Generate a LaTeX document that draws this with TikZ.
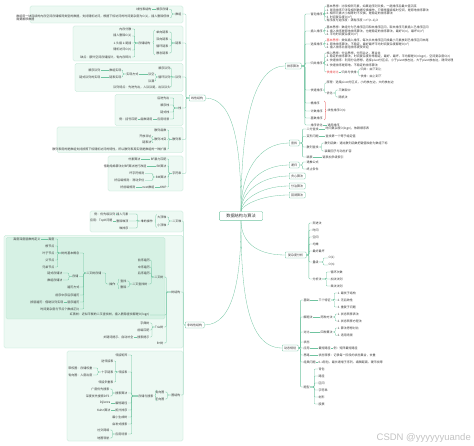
\documentclass[tikz,border=0pt]{standalone}
\usepackage{fontspec}
\newfontfamily\cjk{Noto Sans CJK SC}
\newfontfamily\wmfont{Liberation Sans}
\usetikzlibrary{decorations.pathreplacing}
\definecolor{edgec}{RGB}{112,196,160}
\definecolor{nodeb}{RGB}{112,196,160}
\definecolor{grpfill}{RGB}{237,249,243}
\definecolor{grpline}{RGB}{178,226,204}
\definecolor{grpinner}{RGB}{214,241,228}
\definecolor{txt}{RGB}{55,55,55}
\definecolor{redc}{RGB}{228,60,60}
\definecolor{wmc}{RGB}{196,196,196}
\newcommand\Lk[3][2.5]{\draw[ed] (#2.west) -- ++(-#1,0) |- (#3.east);}
\newcommand\Rk[3][2.5]{\draw[ed] (#2.east) -- ++(#1,0) |- (#3.west);}
\newcommand\ChL[2]{\draw[ed] (#1.west) -- (#2.east);}
\newcommand\ChR[2]{\draw[ed] (#1.east) -- (#2.west);}
\begin{document}
\begin{tikzpicture}[x=1pt,y=-1pt,
 every node/.style={font=\cjk\fontsize{3}{3.6}\selectfont, text=txt},
 lf/.style={inner sep=0.4pt},
 le/.style={lf, anchor=east},
 lw/.style={lf, anchor=west},
 mn/.style={draw=nodeb, fill=white, rounded corners=0.8pt, inner xsep=2pt, inner ysep=1.6pt, line width=0.35pt, anchor=west},
 ctrn/.style={draw=nodeb, fill=white, rounded corners=1pt, inner xsep=7pt, inner ysep=2.5pt, line width=0.4pt, font=\cjk\fontsize{4.2}{5}\selectfont},
 ed/.style={draw=edgec, line width=0.3pt, rounded corners=1pt},
 br/.style={draw=edgec, line width=0.3pt, decorate, decoration={brace, amplitude=1.5pt}},
 grp/.style={fill=grpfill, draw=grpline, line width=0.3pt, rounded corners=1.5pt},
 grpi/.style={fill=grpinner, draw=grpline, line width=0.3pt, rounded corners=1.5pt},
]
\fill[white] (0,0) rectangle (474,446);
\useasboundingbox (0,0) rectangle (474,446);

% ---------- group backgrounds ----------
\path[grp] (30,6) rectangle (183,23);
\path[grp] (73,26) rectangle (183,61);
\path[grp] (75,63.5) rectangle (183,91.5);
\path[grp] (115,94.5) rectangle (183,125.5);
\path[grp] (57,127) rectangle (183,152.5);
\path[grp] (108,156) rectangle (183,191);
\path[grp] (90,211) rectangle (183,232);
\path[grp] (4,235.5) rectangle (183,348);
\path[grpi] (6,237.5) rectangle (165,319);
\path[grp] (67,351) rectangle (183,441);

% ---------- center and main nodes ----------
\node[ctrn] (ctr) at (241,216) {数据结构与算法};
\node[mn] (ML1) at (189,98) {线性结构};
\node[mn] (ML2) at (185,325) {非线性结构};
\node[mn] (RM1) at (285,66) {排序算法};
\node[mn] (RM2) at (289,143) {查找};
\node[mn] (RM3) at (289,165) {递归};
\node[mn] (RM4) at (289,176) {贪心算法};
\node[mn] (RM5) at (289,186) {分治算法};
\node[mn] (RM6) at (289,195) {回溯算法};
\node[mn, inner xsep=3pt] (RM7) at (285,255) {复杂度分析};
\node[mn] (RM8) at (282,348) {动态规划};

\draw[ed] (ctr.north) .. controls +(0,-75) and +(-35,0) .. (RM1.west);
\draw[ed] (ctr.north) .. controls +(0,-40) and +(-30,0) .. (RM2.west);
\draw[ed] (ctr.north) .. controls +(0,-25) and +(-30,0) .. (RM3.west);
\draw[ed] (ctr.north) .. controls +(0,-18) and +(-30,0) .. (RM4.west);
\draw[ed] (ctr.north) .. controls +(0,-10) and +(-30,0) .. (RM5.west);
\draw[ed] (ctr.north) .. controls +(0,-5) and +(-30,0) .. (RM6.west);
\draw[ed] (ctr.north) .. controls +(0,-60) and +(30,0) .. (ML1.east);
\draw[ed] (ctr.south) .. controls +(0,55) and +(30,0) .. (ML2.east);
\draw[ed] (ctr.south) .. controls +(0,20) and +(-30,0) .. (RM7.west);
\draw[ed] (ctr.south) .. controls +(0,70) and +(-35,0) .. (RM8.west);

% ---------- group A ----------
\node[le] (A) at (182,14) {数组};
\node[le] (A1) at (169,9.5) {顺序存储};
\node[le] (A11) at (152,9.5) {线性表结构};
\node[le, align=left] (A2) at (170,17.7) {数组用一块连续的内存空间存储相同类型的数据，支持随机访问，根据下标访问的时间复杂度为O(1)，插入删除低效\\需要搬移数据};
\Lk[3]{A}{A1} \Lk[3]{A}{A2} \ChL{A1}{A11}

% ---------- group B ----------
\node[le] (B) at (182,43) {链表};
\node[le] (B1) at (169,32) {单向链表};
\node[le] (B2) at (169,39) {双向链表};
\node[le] (B3) at (169,46) {循环链表};
\node[le] (B4) at (169,53) {静态链表};
\draw[br] (154.5,55) -- (154.5,30);
\node[le] (BS) at (151,43) {存储结构};
\node[le] (B5) at (132,29) {内存分散};
\node[le] (B6) at (132,36) {插入删除O(1)};
\node[le] (B7) at (132,43) {1.头插 2.尾插};
\node[le] (B8) at (132,50) {随机访问O(n)};
\node[le] (B9) at (132,57) {缺点：额外空间存储指针，有内存碎片};
\Lk[3.5]{B}{B1} \Lk[3.5]{B}{B2} \Lk[3.5]{B}{B3} \Lk[3.5]{B}{B4}
\Lk[3]{BS}{B5} \Lk[3]{BS}{B6} \Lk[3]{BS}{B7} \Lk[3]{BS}{B8} \Lk[3]{BS}{B9}

% ---------- group C ----------
\node[le] (C) at (182,77) {队列};
\node[le] (C1) at (171,68) {顺序队列};
\node[le] (C2) at (171,77) {循环队列};
\node[le] (C3) at (171,87) {队列特点：先进先出，入队队尾，出队队头};
\node[le] (C21) at (155,74) {队空};
\node[le] (C22) at (155,81) {队满};
\node[le] (CS) at (139,74) {实现方式};
\node[le] (C5) at (122,70) {数组实现};
\node[le] (C6) at (122,77) {链表实现};
\node[le] (C7) at (101,70) {顺序队列};
\node[le] (C8) at (101,77) {链式队列的实现};
\Lk[3.5]{C}{C1} \Lk[3.5]{C}{C2} \Lk[3.5]{C}{C3}
\Lk[2]{C2}{C21} \Lk[2]{C2}{C22} \ChL{C21}{CS}
\Lk[3]{CS}{C5} \Lk[3]{CS}{C6} \ChL{C5}{C7} \ChL{C6}{C8}

% ---------- group D ----------
\node[le] (D) at (182,108) {栈};
\node[le] (D1) at (170,98) {后进先出};
\node[le] (D2) at (170,105) {顺序栈};
\node[le] (D3) at (170,112) {链式栈};
\node[le] (D4) at (170,119) {应用场景};
\node[le] (D41) at (153,119) {函数调用};
\node[le] (D42) at (138,119) {例：括号匹配};
\Lk[4]{D}{D1} \Lk[4]{D}{D2} \Lk[4]{D}{D3} \Lk[4]{D}{D4}
\ChL{D4}{D41} \ChL{D41}{D42}

% ---------- group E ----------
\node[le] (E) at (182,139.5) {散列表};
\node[le] (E1) at (167,130) {散列函数};
\node[le] (E2) at (167,139.5) {散列冲突};
\node[le] (E21) at (152,136.5) {开放寻址};
\node[le] (E22) at (152,142.5) {链表法};
\node[le] (E3) at (167,149) {散列表用的是数组支持按照下标随机访问的特性，所以散列表其实就是数组的一种扩展};
\Lk[3]{E}{E1} \Lk[3]{E}{E2} \Lk[3]{E}{E3}
\Lk[2]{E2}{E21} \Lk[2]{E2}{E22}

% ---------- group F ----------
\node[le] (F) at (182,173.5) {字符串};
\node[le] (F1) at (167,159) {BF暴力匹配};
\node[le] (F11) at (141,159) {朴素算法};
\node[le] (F2) at (167,166) {RK算法};
\node[le] (F21) at (147,166) {借助哈希算法对BF算法进行改造};
\node[le] (F3) at (167,177) {BM算法};
\node[le] (F31) at (145,173.5) {坏字符规则};
\node[le] (F32) at (145,180.5) {好后缀规则：滑动多位};
\node[le] (F4) at (167,187) {KMP};
\node[le] (F41) at (155,187) {next数组};
\node[le] (F42) at (136,187) {好前缀规则};
\Lk[3]{F}{F1} \Lk[3]{F}{F2} \Lk[3]{F}{F3} \Lk[3]{F}{F4}
\ChL{F1}{F11} \ChL{F2}{F21} \Lk[2.5]{F3}{F31} \Lk[2.5]{F3}{F32}
\ChL{F4}{F41} \ChL{F41}{F42}

\Lk[3]{ML1}{A} \Lk[3]{ML1}{B} \Lk[3]{ML1}{C} \Lk[3]{ML1}{D} \Lk[3]{ML1}{E} \Lk[3]{ML1}{F}

% ---------- group G ----------
\node[le] (G) at (182,221) {二叉堆};
\node[le] (G1) at (167,217) {大顶堆};
\node[le] (G2) at (167,225) {小顶堆};
\draw[br] (156.5,227.5) -- (156.5,214.5);
\node[le] (GS) at (153.5,221) {堆的操作};
\node[le] (G3) at (129,214) {插入元素};
\node[le] (G4) at (129,221) {删除堆顶};
\node[le] (G5) at (129,228) {堆排序};
\node[le] (G31) at (116,214) {例：优先级队列};
\node[le] (G41) at (113,221) {应用：TopK问题};
\Lk[3]{G}{G1} \Lk[3]{G}{G2}
\Lk[3]{GS}{G3} \Lk[3]{GS}{G4} \Lk[3]{GS}{G5}
\ChL{G3}{G31} \ChL{G4}{G41}

% ---------- group H ----------
\node[le] (T) at (181,292) {树结构};
\node[le] (M1) at (164,277) {二叉树};
\node[le] (m1) at (150.5,260) {前序遍历};
\node[le] (m2) at (150.5,267) {中序遍历};
\node[le] (m3) at (150.5,273) {后序遍历};
\node[le] (MQ) at (148,284) {二叉查找树};
\node[le] (MQ1) at (127,281) {查找};
\node[le] (MQ2) at (127,287) {删除};
\draw[br] (119,289) -- (119,279);
\node[le] (K) at (116,284) {操作};
\node[le] (N1) at (102,273) {二叉树存储};
\node[le] (X1) at (80,253) {树的基本概念};
\node[le] (x11) at (55,239) {高度};
\node[le] (x111) at (41,239) {高度深度层数的定义};
\node[le] (x12) at (55,246) {根节点};
\node[le] (x13) at (55,253) {叶子节点};
\node[le] (x14) at (55,260) {父节点};
\node[le] (x15) at (55,267) {兄弟节点};
\node[le] (X2) at (79,276.5) {存储};
\node[le] (x21) at (63,273) {链式存储法};
\node[le] (x22) at (63,280) {数组存储法};
\node[le] (X3) at (80,287) {遍历方式};
\node[le] (X4) at (80,295) {前序中序后序遍历};
\node[le] (X5) at (80,302) {层序遍历};
\node[le] (x51) at (64,302) {按层遍历：借助队列实现};
\node[le] (X6) at (80,309) {时间复杂度与节点个数成正比};
\node[le] (P) at (150,315) {红黑树：近似平衡的二叉查找树，插入删除查找都是O(logn)};
\node[le] (Q) at (164,327) {Trie树};
\node[le] (q1) at (150,323) {字典树};
\node[le] (q2) at (150,330) {前缀匹配};
\node[le] (q3) at (150,337) {搜索提示};
\node[le] (q31) at (134,337) {关键词提示、自动补全};
\node[le] (R) at (164,343) {B+树};
\Lk[4.5]{T}{M1} \Lk[4.5]{T}{P} \Lk[4.5]{T}{Q} \Lk[4.5]{T}{R}
\Lk{M1}{m1} \Lk{M1}{m2} \Lk{M1}{m3} \Lk{M1}{MQ}
\Lk{MQ}{MQ1} \Lk{MQ}{MQ2}
\Lk[3]{K}{N1}
\Lk[2]{N1}{X1} \Lk[2]{N1}{X2} \Lk[2]{N1}{X3} \Lk[2]{N1}{X4} \Lk[2]{N1}{X5} \Lk[2]{N1}{X6}
\Lk[3]{X1}{x11} \Lk[3]{X1}{x12} \Lk[3]{X1}{x13} \Lk[3]{X1}{x14} \Lk[3]{X1}{x15}
\ChL{x11}{x111}
\Lk[3]{X2}{x21} \Lk[3]{X2}{x22} \ChL{X5}{x51}
\Lk{Q}{q1} \Lk{Q}{q2} \Lk{Q}{q3} \ChL{q3}{q31}

% ---------- group I ----------
\node[le] (I) at (181,395) {图结构};
\node[le] (I1) at (165,392) {有向图};
\node[le] (I2) at (165,399) {无向图};
\draw[br] (156.5,401) -- (156.5,390);
\node[le] (IS) at (154,396) {存储与搜索};
\node[le] (i1) at (128,355) {邻接矩阵};
\node[le] (i2) at (128,372) {邻接表};
\node[le] (i21) at (114,361) {逆邻接表};
\node[le] (i22) at (114,372) {十字链表};
\node[le] (i221) at (93,368) {带权图：存储权重};
\node[le] (i222) at (93,375) {有向图：入度出度};
\node[le] (i23) at (114,382) {邻接多重表};
\node[le] (i3) at (128,393) {搜索算法};
\node[le] (i31) at (110,389) {广度优先搜索};
\node[le] (i32) at (110,396) {深度优先搜索DFS};
\node[le] (i4) at (128,403) {最短路径};
\node[le] (i41) at (111,403) {Dijkstra};
\node[le] (i5) at (128,410) {拓扑排序};
\node[le] (i51) at (111,410) {Kahn算法};
\node[le] (i6) at (128,417) {最小生成树};
\node[le] (i7) at (128,424) {启发式搜索};
\node[le] (i8) at (128,434) {应用场景};
\node[le] (i81) at (110,430) {社交网络};
\node[le] (i82) at (110,438) {地图导航};
\Lk[3.5]{I}{I1} \Lk[3.5]{I}{I2}
\Lk[6]{IS}{i1} \Lk[6]{IS}{i2} \Lk[6]{IS}{i3} \Lk[6]{IS}{i4} \Lk[6]{IS}{i5} \Lk[6]{IS}{i6} \Lk[6]{IS}{i7} \Lk[6]{IS}{i8}
\Lk[2]{i2}{i21} \Lk[2]{i2}{i22} \Lk[2]{i2}{i23}
\Lk[3]{i22}{i221} \Lk[3]{i22}{i222}
\Lk{i3}{i31} \Lk{i3}{i32} \ChL{i4}{i41} \ChL{i5}{i51}
\Lk{i8}{i81} \Lk{i8}{i82}

\Lk[1.5]{ML2}{G} \Lk[1.5]{ML2}{T} \Lk[1.5]{ML2}{I}

% ---------- right: sorting ----------
\node[lw] (r1) at (310,14) {冒泡排序};
\node[lw] (r11) at (326,6) {基本思想：比较相邻元素，如果逆序则交换，一趟排序后最大值沉底};
\node[lw] (r12) at (326,10) {1. 冒泡排序只涉及相邻数据交换操作，只需常量级临时空间，是原地排序算法};
\node[lw] (r13) at (326,13.5) {2. 相邻元素大小相等时不交换，是稳定的排序算法};
\node[lw] (r14) at (326,17) {3. 时间复杂度O(n²)};
\node[lw] (r15) at (326,21) {有序度与逆序度：满有序度 = n*(n-1)/2};
\node[lw] (r2) at (310,31) {插入排序};
\node[lw] (r21) at (326,27.5) {基本思想：数组分为已排序区间和未排序区间，取未排序元素插入已排序区间};
\node[lw] (r22) at (326,31) {1. 插入排序是原地排序算法，也是稳定的排序算法，最好O(n)，最坏O(n²)};
\node[lw] (r23) at (326,34.5) {2. 平均时间复杂度O(n²)};
\node[lw] (r3) at (310,44) {选择排序};
\node[lw] (r31) at (326,40.5) {\textcolor{redc}{基本思想}：类似插入排序，每次从未排序区间找最小元素放到已排序区间末尾};
\node[lw] (r32) at (326,44) {1. 原地排序算法，不稳定，最好最坏平均时间复杂度都是O(n²)};
\node[lw] (r33) at (326,47.5) {2. 插入排序比冒泡排序更受欢迎};
\node[lw] (r4) at (310,63) {归并排序};
\node[lw] (r41) at (326,53) {核心思想：分治思想，分而治之，再合并};
\node[lw] (r42) at (326,57) {1. 稳定的排序算法，时间复杂度非常稳定，最好、最坏、平均都是O(nlogn)，空间复杂度O(n)};
\node[lw] (r43) at (326,61) {2. 快速排序：利用分治思想，选择pivot分区点，小于pivot放左边，大于pivot放右边，递归处理};
\node[lw] (r44) at (326,65) {3. 快速排序是原地、不稳定的排序算法};
\node[lw, text=redc] (r45) at (326,72) {快排对比};
\node[lw] (r46) at (341,72) {归并与快排};
\node[lw] (r461) at (360,69) {归并：由下到上};
\node[lw] (r462) at (360,76) {快排：由上到下};
\node[lw] (r5) at (310,90) {快速排序};
\node[lw] (r51) at (326,83) {原理：选择pivot分区点，小的放左边，大的放右边};
\node[lw] (r52) at (326,93) {优化};
\node[lw] (r521) at (338,90) {三数取中};
\node[lw] (r522) at (338,97) {随机法};
\node[lw] (r6) at (310,103) {桶排序};
\node[lw] (r7) at (310,111) {计数排序};
\node[lw] (r8) at (310,118) {基数排序};
\draw[br, draw=redc] (324.5,101) -- (324.5,120);
\node[lw] (r78) at (327,110.5) {线性排序O(n)};
\node[lw] (r9) at (310,125) {排序优化};
\node[lw] (r91) at (327,125) {通用排序};
\Rk[3.5]{RM1}{r1} \Rk[3.5]{RM1}{r2} \Rk[3.5]{RM1}{r3} \Rk[3.5]{RM1}{r4} \Rk[3.5]{RM1}{r5}
\Rk[3.5]{RM1}{r6} \Rk[3.5]{RM1}{r7} \Rk[3.5]{RM1}{r8} \Rk[3.5]{RM1}{r9}
\Rk[1.5]{r1}{r11} \Rk[1.5]{r1}{r12} \Rk[1.5]{r1}{r13} \Rk[1.5]{r1}{r14} \Rk[1.5]{r1}{r15}
\Rk[1.5]{r2}{r21} \Rk[1.5]{r2}{r22} \Rk[1.5]{r2}{r23}
\Rk[1.5]{r3}{r31} \Rk[1.5]{r3}{r32} \Rk[1.5]{r3}{r33}
\Rk[1.5]{r4}{r41} \Rk[1.5]{r4}{r42} \Rk[1.5]{r4}{r43} \Rk[1.5]{r4}{r44} \Rk[1.5]{r4}{r45}
\ChR{r45}{r46} \Rk[1.5]{r46}{r461} \Rk[1.5]{r46}{r462}
\Rk[1.5]{r5}{r51} \Rk[1.5]{r5}{r52} \Rk[2.5]{r52}{r521} \Rk[2.5]{r52}{r522}
\ChR{r9}{r91}

% ---------- right: search ----------
\node[lw] (s1) at (306,129) {二分查找};
\node[lw] (s11) at (325,129) {时间复杂度O(logn)，依赖顺序表};
\node[lw] (s2) at (306,136.5) {变形问题};
\node[lw] (s21) at (325,136.5) {查找第一个等于给定值};
\node[lw] (s3) at (306,147) {散列查找};
\node[lw] (s31) at (324,143) {散列函数：通过散列函数把键值映射为数组下标};
\node[lw] (s32) at (324,151) {装载因子与动态扩容};
\node[lw] (s4) at (306,157) {跳表};
\node[lw] (s41) at (322,157) {链表加多级索引};
\Rk[3]{RM2}{s1} \Rk[3]{RM2}{s2} \Rk[3]{RM2}{s3} \Rk[3]{RM2}{s4}
\ChR{s1}{s11} \ChR{s2}{s21} \Rk[2.5]{s3}{s31} \Rk[2.5]{s3}{s32} \ChR{s4}{s41}

\node[lw] (u1) at (306,162) {递推公式};
\node[lw] (u2) at (306,169) {终止条件};
\Rk[3]{RM3}{u1} \Rk[3]{RM3}{u2}

% ---------- right: complexity ----------
\node[lw] (t1) at (312,223) {渐进法};
\node[lw] (t2) at (312,230) {时间};
\node[lw] (t3) at (312,237) {空间};
\node[lw] (t4) at (312,244) {均摊};
\node[lw] (t5) at (312,251) {最好最坏};
\node[lw] (t6) at (312,262) {量级};
\node[lw] (t61) at (328,258) {O(1)};
\node[lw] (t62) at (328,265) {O(n)};
\node[lw] (t7) at (312,279) {分析法};
\node[lw] (t71) at (330,272) {循环次数};
\node[lw] (t72) at (330,279) {加法法则};
\node[lw] (t73) at (330,286) {乘法法则};
\Rk{RM7}{t1} \Rk{RM7}{t2} \Rk{RM7}{t3} \Rk{RM7}{t4} \Rk{RM7}{t5} \Rk{RM7}{t6} \Rk{RM7}{t7}
\Rk[4]{t6}{t61} \Rk[4]{t6}{t62}
\Rk[4]{t7}{t71} \Rk[4]{t7}{t72} \Rk[4]{t7}{t73}

% ---------- right: dynamic programming ----------
\node[lw] (d1) at (303,300) {基础};
\node[lw] (d11) at (318,300) {三个特征};
\node[lw] (d111) at (337,293) {1. 最优子结构};
\node[lw] (d112) at (337,300) {2. 无后效性};
\node[lw] (d113) at (337,307) {3. 重复子问题};
\node[lw] (d2) at (303,317) {解题法};
\node[lw] (d21) at (320,317) {两种方法};
\node[lw] (d211) at (337,314) {1. 状态转移表法};
\node[lw] (d212) at (337,321) {2. 状态转移方程法};
\node[lw] (d3) at (303,332) {对比};
\node[lw] (d31) at (320,332) {四种算法};
\node[lw] (d311) at (337,328) {1. 算法思想对比};
\node[lw] (d312) at (337,335.5) {2. 适用场景};
\node[lw] (d4) at (303,342) {状态};
\node[lw] (d5) at (303,348) {应用};
\node[lw] (d51) at (318,348) {最短路径};
\node[lw] (d52) at (333,348) {例：矩阵最短路径};
\node[lw] (d6) at (303,355) {思路};
\node[lw] (d61) at (318,355) {状态转移：记录每一阶段的状态集合，去重};
\node[lw] (d7) at (303,362) {经典问题};
\node[lw] (d71) at (318,362) {0-1背包、最长递增子序列、编辑距离、硬币找零};
\node[lw] (d8) at (303,387) {题型};
\node[lw] (d81) at (318,369) {背包};
\node[lw] (d82) at (318,376) {路径};
\node[lw] (d83) at (318,383) {区间};
\node[lw] (d84) at (318,390) {字符串};
\node[lw] (d85) at (318,397) {树形};
\node[lw] (d86) at (318,404) {股票};
\Rk[2]{RM8}{d1} \Rk[2]{RM8}{d2} \Rk[2]{RM8}{d3} \Rk[2]{RM8}{d4}
\Rk[2]{RM8}{d5} \Rk[2]{RM8}{d6} \Rk[2]{RM8}{d7} \Rk[2]{RM8}{d8}
\ChR{d1}{d11} \Rk[3]{d11}{d111} \Rk[3]{d11}{d112} \Rk[3]{d11}{d113}
\ChR{d2}{d21} \Rk[2]{d21}{d211} \Rk[2]{d21}{d212}
\ChR{d3}{d31} \Rk[2]{d31}{d311} \Rk[2]{d31}{d312}
\ChR{d5}{d51} \ChR{d51}{d52} \ChR{d6}{d61} \ChR{d7}{d71}
\Rk[4]{d8}{d81} \Rk[4]{d8}{d82} \Rk[4]{d8}{d83} \Rk[4]{d8}{d84} \Rk[4]{d8}{d85} \Rk[4]{d8}{d86}

% ---------- watermark ----------
\node[anchor=east, font=\wmfont\fontsize{9.5}{10}\selectfont, text=wmc, inner sep=0pt] (wm) at (471,438) {CSDN @yyyyyyuande};
\end{tikzpicture}
\end{document}
